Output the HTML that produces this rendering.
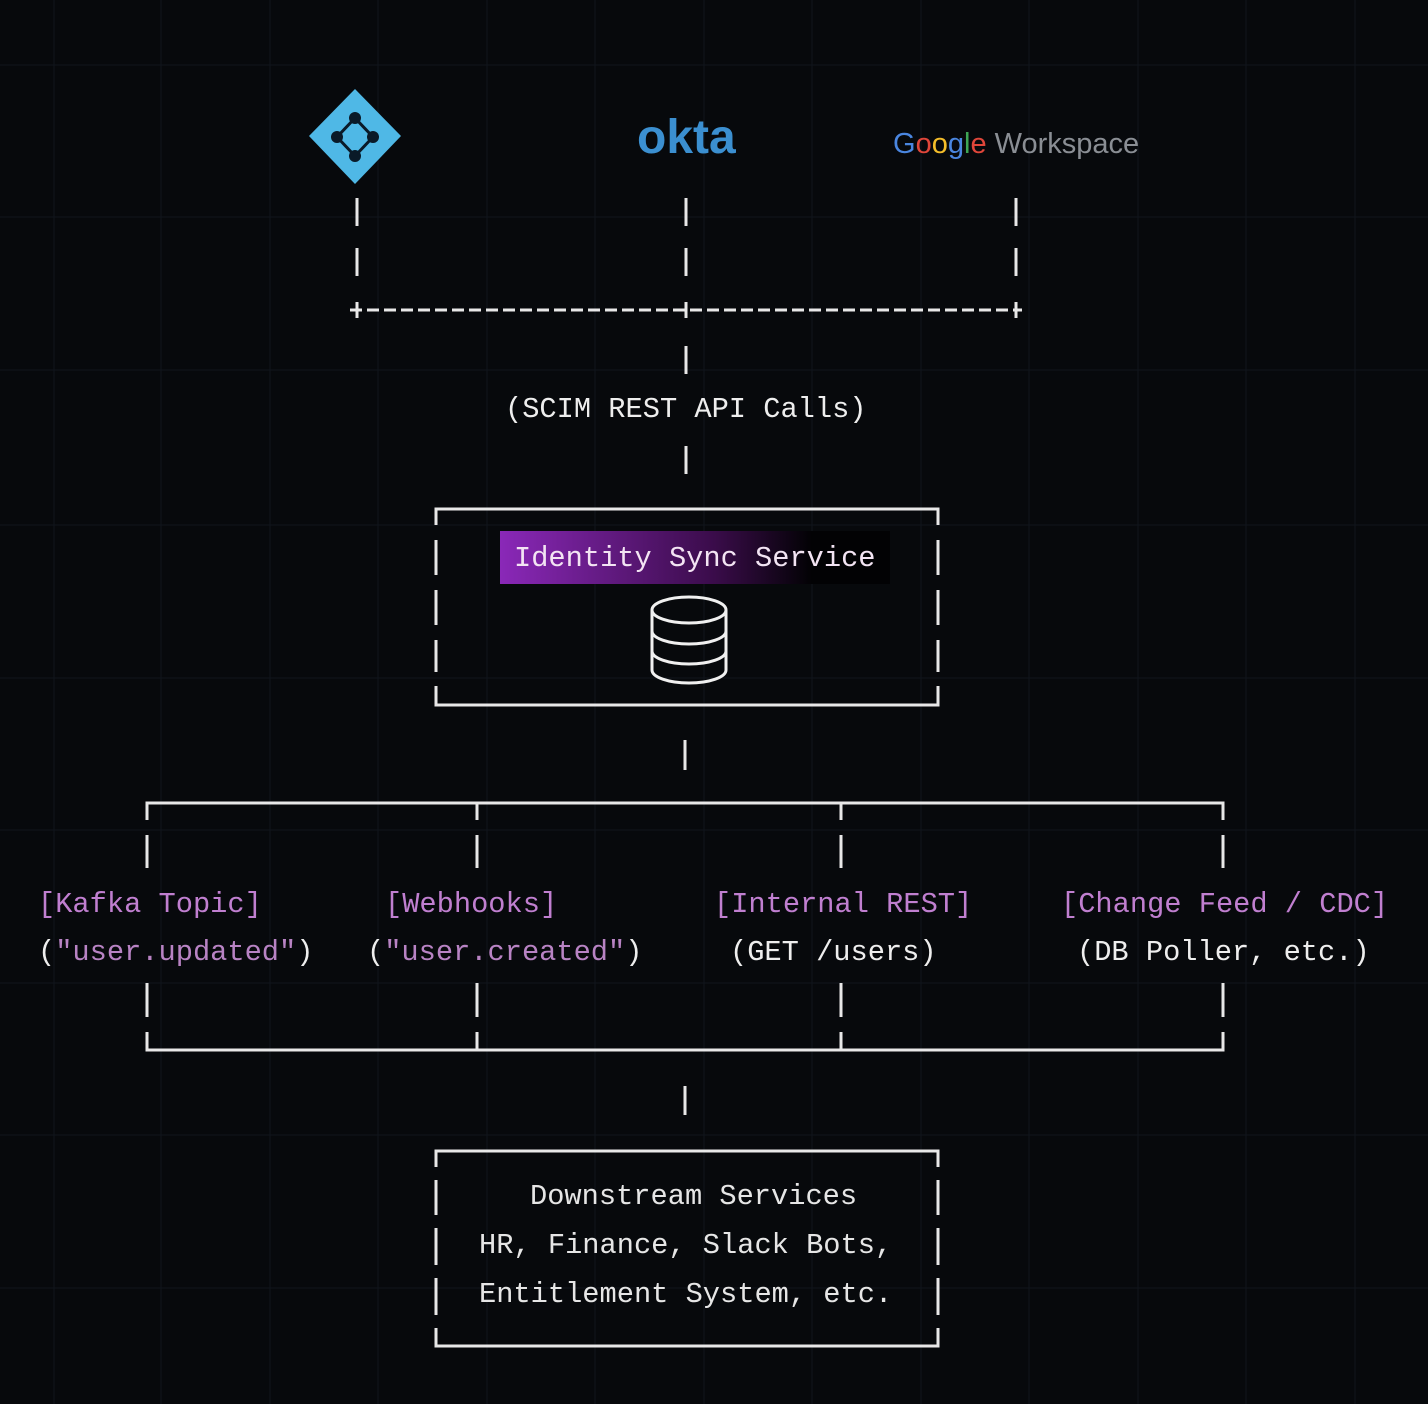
<!DOCTYPE html>
<html><head><meta charset="utf-8"><style>
html,body{margin:0;padding:0;background:#07090c;}
svg{display:block}
.m{font-family:"Liberation Mono",monospace;font-size:28.7px;}
</style></head><body>
<svg width="1428" height="1404" viewBox="0 0 1428 1404" xmlns="http://www.w3.org/2000/svg">
<rect width="1428" height="1404" fill="#07090c"/>
<g stroke="#10151c" stroke-width="1">
<line x1="0" y1="65" x2="1428" y2="65"/><line x1="0" y1="217" x2="1428" y2="217"/><line x1="0" y1="370" x2="1428" y2="370"/><line x1="0" y1="525" x2="1428" y2="525"/><line x1="0" y1="678" x2="1428" y2="678"/><line x1="0" y1="830" x2="1428" y2="830"/><line x1="0" y1="983" x2="1428" y2="983"/><line x1="0" y1="1135" x2="1428" y2="1135"/><line x1="0" y1="1288" x2="1428" y2="1288"/>
<line x1="54" y1="0" x2="54" y2="1404"/><line x1="161" y1="0" x2="161" y2="1404"/><line x1="270" y1="0" x2="270" y2="1404"/><line x1="378" y1="0" x2="378" y2="1404"/><line x1="487" y1="0" x2="487" y2="1404"/><line x1="595" y1="0" x2="595" y2="1404"/><line x1="704" y1="0" x2="704" y2="1404"/><line x1="812" y1="0" x2="812" y2="1404"/><line x1="921" y1="0" x2="921" y2="1404"/><line x1="1029" y1="0" x2="1029" y2="1404"/><line x1="1138" y1="0" x2="1138" y2="1404"/><line x1="1246" y1="0" x2="1246" y2="1404"/><line x1="1355" y1="0" x2="1355" y2="1404"/>
</g>
<polygon points="355,89 401,136 355,184 309,136" fill="#4fb8e6"/>
<g stroke="#0a1a28" stroke-width="3" fill="none"><polygon points="355,118 373,137 355,156 337,137"/></g>
<g fill="#0a1a28"><circle cx="355" cy="118" r="6"/><circle cx="373" cy="137" r="6"/><circle cx="355" cy="156" r="6"/><circle cx="337" cy="137" r="6"/></g>
<text x="637" y="153" font-family="Liberation Sans,sans-serif" font-weight="bold" font-size="48" fill="#3b8fd0">okta</text>
<text x="893" y="153" font-family="Liberation Sans,sans-serif" font-size="29"><tspan fill="#4a86e0">G</tspan><tspan fill="#e0463a">o</tspan><tspan fill="#f4bd2a">o</tspan><tspan fill="#4a86e0">g</tspan><tspan fill="#3ea655">l</tspan><tspan fill="#e0463a">e</tspan><tspan fill="#8a8e94"> Workspace</tspan></text>
<g stroke="#e8e8e8" stroke-width="3" fill="none">
<line x1="357" y1="198" x2="357" y2="226"/><line x1="357" y1="248" x2="357" y2="276"/>
<line x1="686" y1="198" x2="686" y2="226"/><line x1="686" y1="248" x2="686" y2="276"/>
<line x1="1016" y1="198" x2="1016" y2="226"/><line x1="1016" y1="248" x2="1016" y2="276"/>
<line x1="350" y1="310" x2="1022" y2="310" stroke-dasharray="12,5"/>
<line x1="357" y1="302" x2="357" y2="318"/><line x1="686" y1="302" x2="686" y2="318"/><line x1="1016" y1="302" x2="1016" y2="318"/>
<line x1="686" y1="346" x2="686" y2="374"/><line x1="686" y1="446" x2="686" y2="474"/>
<polyline points="436,525 436,509 938,509 938,525"/>
<polyline points="436,686 436,705 938,705 938,686"/>
<line x1="436" y1="540" x2="436" y2="575"/><line x1="436" y1="590" x2="436" y2="625"/><line x1="436" y1="640" x2="436" y2="672"/>
<line x1="938" y1="540" x2="938" y2="575"/><line x1="938" y1="590" x2="938" y2="625"/><line x1="938" y1="640" x2="938" y2="672"/>
<line x1="685" y1="740" x2="685" y2="770"/>
<polyline points="147,820 147,803 1223,803 1223,820"/>
<line x1="477" y1="803" x2="477" y2="820"/><line x1="841" y1="803" x2="841" y2="820"/>
<line x1="147" y1="835" x2="147" y2="868"/><line x1="477" y1="835" x2="477" y2="868"/><line x1="841" y1="835" x2="841" y2="868"/><line x1="1223" y1="835" x2="1223" y2="868"/>
<line x1="147" y1="983" x2="147" y2="1017"/><line x1="477" y1="983" x2="477" y2="1017"/><line x1="841" y1="983" x2="841" y2="1017"/><line x1="1223" y1="983" x2="1223" y2="1017"/>
<polyline points="147,1032 147,1050 1223,1050 1223,1032"/>
<line x1="477" y1="1032" x2="477" y2="1050"/><line x1="841" y1="1032" x2="841" y2="1050"/>
<line x1="685" y1="1086" x2="685" y2="1115"/>
<polyline points="436,1167 436,1151 938,1151 938,1167"/>
<polyline points="436,1328 436,1346 938,1346 938,1328"/>
<line x1="436" y1="1180" x2="436" y2="1215"/><line x1="436" y1="1228" x2="436" y2="1265"/><line x1="436" y1="1278" x2="436" y2="1315"/>
<line x1="938" y1="1180" x2="938" y2="1215"/><line x1="938" y1="1228" x2="938" y2="1265"/><line x1="938" y1="1278" x2="938" y2="1315"/>
</g>
<text class="m" x="505" y="417" fill="#eeeeee">(SCIM REST API Calls)</text>
<defs><linearGradient id="pg" x1="0" x2="1"><stop offset="0" stop-color="#8a28b8"/><stop offset="0.55" stop-color="#3a0c4a"/><stop offset="0.8" stop-color="#020204"/><stop offset="1" stop-color="#020204"/></linearGradient></defs>
<rect x="500" y="531" width="390" height="53" fill="url(#pg)"/>
<text class="m" x="514" y="566" fill="#f3e4f3">Identity Sync Service</text>
<g stroke="#f0f0f0" stroke-width="3" fill="none">
<ellipse cx="689" cy="610" rx="37" ry="13"/>
<path d="M652,610 V670 A37,13 0 0 0 726,670 V610"/>
<path d="M652,631 A37,13 0 0 0 726,631"/>
<path d="M652,651 A37,13 0 0 0 726,651"/>
</g>
<g class="m" fill="#c07fd0">
<text x="38" y="912">[Kafka Topic]</text>
<text x="385" y="912">[Webhooks]</text>
<text x="714" y="912">[Internal REST]</text>
<text x="1061" y="912">[Change Feed / CDC]</text>
</g>
<text class="m" x="38" y="960" fill="#eeeeee">(<tspan fill="#b883c4">"user.updated"</tspan>)</text>
<text class="m" x="367" y="960" fill="#eeeeee">(<tspan fill="#b883c4">"user.created"</tspan>)</text>
<text class="m" x="730" y="960" fill="#eeeeee">(GET /users)</text>
<text class="m" x="1077" y="960" fill="#eeeeee">(DB Poller, etc.)</text>
<g class="m" fill="#e6e6e6">
<text x="530" y="1204">Downstream Services</text>
<text x="479" y="1253">HR, Finance, Slack Bots,</text>
<text x="479" y="1302">Entitlement System, etc.</text>
</g>
</svg>
</body></html>
